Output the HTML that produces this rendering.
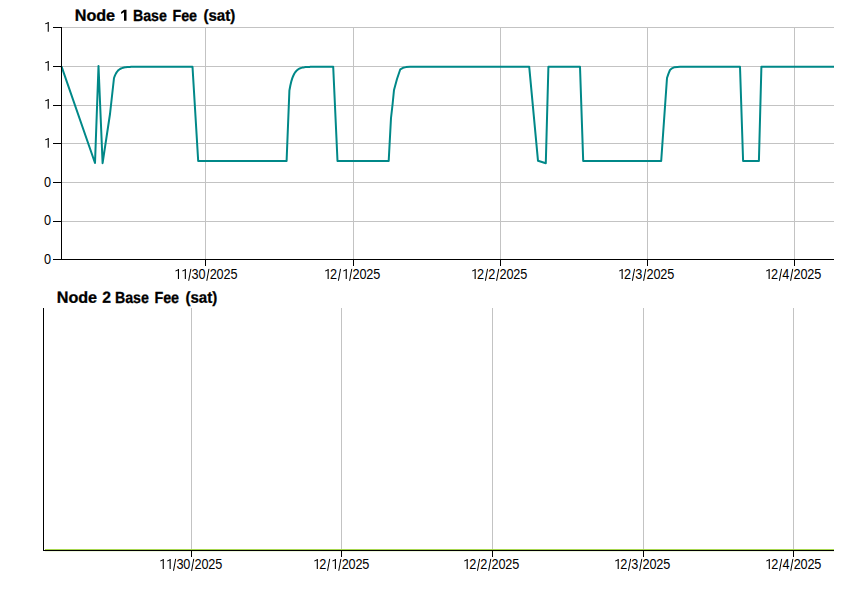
<!DOCTYPE html>
<html><head><meta charset="utf-8"><title>Base Fee</title>
<style>
html,body{margin:0;padding:0;background:#fff;}
body{width:860px;height:600px;position:relative;overflow:hidden;}
svg{position:absolute;left:0;top:0;font-family:"Liberation Sans",sans-serif;}
.lb{font-size:12.7px;fill:#000;}
.tt{font-size:16px;font-weight:bold;fill:#000;stroke:#000;stroke-width:0.3px;}
.g1{fill:#000;}
.sl{stroke:#000;stroke-width:1.0;fill:none;}
</style></head><body>
<svg width="860" height="600" viewBox="0 0 860 600">
<g shape-rendering="crispEdges">
<rect x="62" y="27" width="772" height="1" fill="#c3c3c3"/>
<rect x="62" y="66" width="772" height="1" fill="#c3c3c3"/>
<rect x="62" y="105" width="772" height="1" fill="#c3c3c3"/>
<rect x="62" y="143" width="772" height="1" fill="#c3c3c3"/>
<rect x="62" y="182" width="772" height="1" fill="#c3c3c3"/>
<rect x="62" y="221" width="772" height="1" fill="#c3c3c3"/>
<rect x="205" y="27" width="1" height="232" fill="#c3c3c3"/>
<rect x="353" y="27" width="1" height="232" fill="#c3c3c3"/>
<rect x="500" y="27" width="1" height="232" fill="#c3c3c3"/>
<rect x="647" y="27" width="1" height="232" fill="#c3c3c3"/>
<rect x="794" y="27" width="1" height="232" fill="#c3c3c3"/>
<rect x="191" y="308" width="1" height="242" fill="#c3c3c3"/>
<rect x="341" y="308" width="1" height="242" fill="#c3c3c3"/>
<rect x="492" y="308" width="1" height="242" fill="#c3c3c3"/>
<rect x="643" y="308" width="1" height="242" fill="#c3c3c3"/>
<rect x="793" y="308" width="1" height="242" fill="#c3c3c3"/>
</g>
<path d="M61.5,66.4 L95.0,163.0 L98.5,66.0 L102.6,163.2 L110.0,114.0 L114.0,78.0 L115.0,75.4 L116.0,73.4 L117.0,71.8 L118.0,70.6 L119.0,69.7 L120.0,69.0 L121.0,68.5 L122.0,68.1 L123.0,67.8 L124.0,67.5 L125.0,67.3 L126.0,67.2 L127.0,67.1 L128.0,67.0 L129.0,66.9 L130.0,66.9 L131.0,66.8 L132.0,66.8 L192.5,66.7 L198.2,161.0 L286.6,161.0 L289.4,90.5 L290.4,85.2 L291.4,81.1 L292.4,77.9 L293.4,75.5 L294.4,73.5 L295.4,72.0 L296.4,70.8 L297.4,69.9 L298.4,69.2 L299.4,68.7 L300.4,68.2 L301.4,67.9 L302.4,67.6 L303.4,67.4 L304.4,67.3 L305.4,67.1 L306.4,67.0 L307.4,67.0 L308.4,66.9 L309.4,66.9 L310.4,66.8 L333.2,66.7 L337.5,161.0 L388.7,161.0 L391.0,118.0 L392.5,105.0 L394.0,90.0 L397.0,79.0 L400.3,69.3 L403.0,67.8 L406.0,67.1 L410.0,66.7 L529.2,66.7 L538.0,160.8 L545.8,163.2 L548.4,66.7 L580.0,66.7 L583.2,161.0 L661.2,161.0 L667.0,78.0 L668.5,73.6 L670.0,70.0 L672.0,68.3 L674.5,67.2 L680.0,66.7 L740.0,66.7 L743.1,161.0 L758.9,161.0 L761.4,66.7 L834.0,66.7" fill="none" stroke="#008888" stroke-width="2" stroke-linejoin="round" stroke-linecap="butt"/>
<g shape-rendering="crispEdges">
<rect x="61" y="27" width="1" height="233" fill="#000"/>
<rect x="61" y="259" width="773" height="1" fill="#000"/>
<rect x="53" y="27" width="8" height="1" fill="#000"/>
<rect x="53" y="66" width="8" height="1" fill="#000"/>
<rect x="53" y="105" width="8" height="1" fill="#000"/>
<rect x="53" y="143" width="8" height="1" fill="#000"/>
<rect x="53" y="182" width="8" height="1" fill="#000"/>
<rect x="53" y="221" width="8" height="1" fill="#000"/>
<rect x="53" y="259" width="8" height="1" fill="#000"/>
<rect x="205" y="259" width="1" height="7" fill="#000"/>
<rect x="353" y="259" width="1" height="7" fill="#000"/>
<rect x="500" y="259" width="1" height="7" fill="#000"/>
<rect x="647" y="259" width="1" height="7" fill="#000"/>
<rect x="794" y="259" width="1" height="7" fill="#000"/>
<rect x="45" y="549" width="789" height="1" fill="#a2d444" opacity="0.95"/>
<rect x="45" y="551" width="789" height="1" fill="#9acd32" opacity="0.18"/>
<rect x="43" y="308" width="1" height="243" fill="#000"/>
<rect x="43" y="550" width="791" height="1" fill="#000"/>
<rect x="191" y="550" width="1" height="7" fill="#000"/>
<rect x="341" y="550" width="1" height="7" fill="#000"/>
<rect x="492" y="550" width="1" height="7" fill="#000"/>
<rect x="643" y="550" width="1" height="7" fill="#000"/>
<rect x="793" y="550" width="1" height="7" fill="#000"/>
</g>
<path class="g1" d="M177.90,269.10 H179.00 V278.90 H177.90 V270.60 L175.50,271.40 V270.40 L177.90,269.50 Z"/>
<path class="g1" d="M184.80,269.10 H185.90 V278.90 H184.80 V270.60 L182.40,271.40 V270.40 L184.80,269.50 Z"/>
<path class="sl" d="M188.70,280.80 L190.85,268.90"/>
<path class="sl" d="M206.80,280.80 L208.95,268.90"/>
<text class="lb" transform="translate(0,278.90) scale(1,1.1)" x="191.60 198.50 209.70 216.60 223.50 230.40" y="0">302025</text>
<path class="g1" d="M327.60,269.10 H328.70 V278.90 H327.60 V270.60 L325.20,271.40 V270.40 L327.60,269.50 Z"/>
<path class="sl" d="M338.40,280.80 L340.55,268.90"/>
<path class="g1" d="M345.70,269.10 H346.80 V278.90 H345.70 V270.60 L343.30,271.40 V270.40 L345.70,269.50 Z"/>
<path class="sl" d="M349.60,280.80 L351.75,268.90"/>
<text class="lb" transform="translate(0,278.90) scale(1,1.1)" x="330.10 352.50 359.40 366.30 373.20" y="0">22025</text>
<path class="g1" d="M474.60,269.10 H475.70 V278.90 H474.60 V270.60 L472.20,271.40 V270.40 L474.60,269.50 Z"/>
<path class="sl" d="M485.40,280.80 L487.55,268.90"/>
<path class="sl" d="M496.60,280.80 L498.75,268.90"/>
<text class="lb" transform="translate(0,278.90) scale(1,1.1)" x="477.10 488.30 499.50 506.40 513.30 520.20" y="0">222025</text>
<path class="g1" d="M621.60,269.10 H622.70 V278.90 H621.60 V270.60 L619.20,271.40 V270.40 L621.60,269.50 Z"/>
<path class="sl" d="M632.40,280.80 L634.55,268.90"/>
<path class="sl" d="M643.60,280.80 L645.75,268.90"/>
<text class="lb" transform="translate(0,278.90) scale(1,1.1)" x="624.10 635.30 646.50 653.40 660.30 667.20" y="0">232025</text>
<path class="g1" d="M768.60,269.10 H769.70 V278.90 H768.60 V270.60 L766.20,271.40 V270.40 L768.60,269.50 Z"/>
<path class="sl" d="M779.40,280.80 L781.55,268.90"/>
<path class="sl" d="M790.60,280.80 L792.75,268.90"/>
<text class="lb" transform="translate(0,278.90) scale(1,1.1)" x="771.10 782.30 793.50 800.40 807.30 814.20" y="0">242025</text>
<path class="g1" d="M162.70,559.10 H163.80 V568.90 H162.70 V560.60 L160.30,561.40 V560.40 L162.70,559.50 Z"/>
<path class="g1" d="M169.60,559.10 H170.70 V568.90 H169.60 V560.60 L167.20,561.40 V560.40 L169.60,559.50 Z"/>
<path class="sl" d="M173.50,570.80 L175.65,558.90"/>
<path class="sl" d="M191.60,570.80 L193.75,558.90"/>
<text class="lb" transform="translate(0,568.90) scale(1,1.1)" x="176.40 183.30 194.50 201.40 208.30 215.20" y="0">302025</text>
<path class="g1" d="M316.75,559.10 H317.85 V568.90 H316.75 V560.60 L314.35,561.40 V560.40 L316.75,559.50 Z"/>
<path class="sl" d="M327.55,570.80 L329.70,558.90"/>
<path class="g1" d="M334.85,559.10 H335.95 V568.90 H334.85 V560.60 L332.45,561.40 V560.40 L334.85,559.50 Z"/>
<path class="sl" d="M338.75,570.80 L340.90,558.90"/>
<text class="lb" transform="translate(0,568.90) scale(1,1.1)" x="319.25 341.65 348.55 355.45 362.35" y="0">22025</text>
<path class="g1" d="M466.66,559.10 H467.76 V568.90 H466.66 V560.60 L464.26,561.40 V560.40 L466.66,559.50 Z"/>
<path class="sl" d="M477.46,570.80 L479.61,558.90"/>
<path class="sl" d="M488.66,570.80 L490.81,558.90"/>
<text class="lb" transform="translate(0,568.90) scale(1,1.1)" x="469.16 480.36 491.56 498.46 505.36 512.26" y="0">222025</text>
<path class="g1" d="M617.66,559.10 H618.76 V568.90 H617.66 V560.60 L615.26,561.40 V560.40 L617.66,559.50 Z"/>
<path class="sl" d="M628.46,570.80 L630.61,558.90"/>
<path class="sl" d="M639.66,570.80 L641.81,558.90"/>
<text class="lb" transform="translate(0,568.90) scale(1,1.1)" x="620.16 631.36 642.56 649.46 656.36 663.26" y="0">232025</text>
<path class="g1" d="M768.75,559.10 H769.85 V568.90 H768.75 V560.60 L766.35,561.40 V560.40 L768.75,559.50 Z"/>
<path class="sl" d="M779.55,570.80 L781.70,558.90"/>
<path class="sl" d="M790.75,570.80 L792.90,558.90"/>
<text class="lb" transform="translate(0,568.90) scale(1,1.1)" x="771.25 782.45 793.65 800.55 807.45 814.35" y="0">242025</text>
<path class="g1" d="M47.70,22.00 H48.80 V31.80 H47.70 V23.50 L45.30,24.30 V23.30 L47.70,22.40 Z"/>
<path class="g1" d="M47.70,61.00 H48.80 V70.80 H47.70 V62.50 L45.30,63.30 V62.30 L47.70,61.40 Z"/>
<path class="g1" d="M47.70,99.00 H48.80 V108.80 H47.70 V100.50 L45.30,101.30 V100.30 L47.70,99.40 Z"/>
<path class="g1" d="M47.70,138.00 H48.80 V147.80 H47.70 V139.50 L45.30,140.30 V139.30 L47.70,138.40 Z"/>
<text class="lb" transform="translate(0,186.80) scale(1,1.1)" x="43.9" y="0">0</text>
<text class="lb" transform="translate(0,224.80) scale(1,1.1)" x="43.9" y="0">0</text>
<text class="lb" transform="translate(0,263.80) scale(1,1.1)" x="43.9" y="0">0</text>
<text class="tt" transform="rotate(0.03 74.73 20.80)" x="74.73" y="20.80" textLength="40.39" lengthAdjust="spacingAndGlyphs">Node</text>
<path class="g1" d="M124.00,9.83 H126.50 V20.83 H124.00 V12.30 L121.10,13.90 V12.00 Z"/>
<text class="tt" transform="rotate(0.03 132.95 20.80)" x="132.95" y="20.80" textLength="33.93" lengthAdjust="spacingAndGlyphs">Base</text>
<text class="tt" transform="rotate(0.03 172.44 20.80)" x="172.44" y="20.80" textLength="24.63" lengthAdjust="spacingAndGlyphs">Fee</text>
<text class="tt" transform="rotate(0.03 203.40 20.80)" x="203.40" y="20.80" textLength="31.85" lengthAdjust="spacingAndGlyphs">(sat)</text>
<text class="tt" transform="rotate(0.03 56.73 302.80)" x="56.73" y="302.80" textLength="40.39" lengthAdjust="spacingAndGlyphs">Node</text>
<text class="tt" transform="rotate(0.03 102.13 302.80)" x="102.13" y="302.80" textLength="8.74" lengthAdjust="spacingAndGlyphs">2</text>
<text class="tt" transform="rotate(0.03 114.95 302.80)" x="114.95" y="302.80" textLength="33.93" lengthAdjust="spacingAndGlyphs">Base</text>
<text class="tt" transform="rotate(0.03 154.44 302.80)" x="154.44" y="302.80" textLength="24.63" lengthAdjust="spacingAndGlyphs">Fee</text>
<text class="tt" transform="rotate(0.03 185.40 302.80)" x="185.40" y="302.80" textLength="31.85" lengthAdjust="spacingAndGlyphs">(sat)</text>
</svg>
</body></html>
